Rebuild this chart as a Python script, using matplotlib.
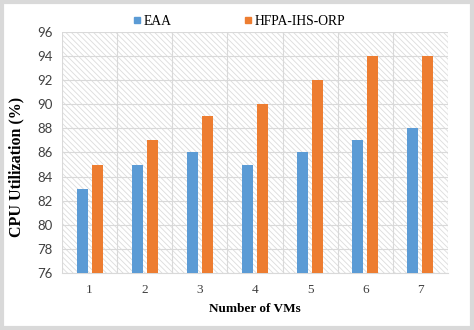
import numpy as np
import matplotlib.pyplot as plt
from matplotlib.patches import Rectangle
from matplotlib.lines import Line2D

plt.rcParams['font.family'] = 'Liberation Serif'
plt.rcParams['hatch.linewidth'] = 0.6
plt.rcParams['hatch.color'] = '#dcdcdc'

# data
vms = [1, 2, 3, 4, 5, 6, 7]
eaa = [83, 85, 86, 85, 86, 87, 88]
hfpa = [85, 87, 89, 90, 92, 94, 94]
series_names = ['EAA', 'HFPA-IHS-ORP']

blue = '#5B9BD5'
orange = '#ED7D31'

fig = plt.figure(figsize=(4.74, 3.3), dpi=100)
fig.patch.set_facecolor('white')
fig.patches.append(Rectangle((0.004, 0.006), 0.992, 0.988, transform=fig.transFigure,
                             fill=False, edgecolor='#d9d9d9', linewidth=3))
ax = fig.add_axes([0.131, 0.173, 0.814, 0.730])

# hatched plot area background
ax.add_patch(Rectangle((0, 0), 1, 1, transform=ax.transAxes, facecolor='white',
                       hatch='\\\\\\\\\\\\', edgecolor='#dcdcdc', linewidth=0, zorder=0))

x = np.array(vms)
w = 0.2
ax.bar(x - 0.135, np.array(eaa) - 76, w, bottom=76, color=blue, zorder=3)
ax.bar(x + 0.135, np.array(hfpa) - 76, w, bottom=76, color=orange, zorder=3)

ax.set_xlim(0.5, 7.5)
ax.set_ylim(76, 96)
ax.set_yticks(range(76, 97, 2))
ax.set_xticks(vms)
ax.set_xticks(np.arange(0.5, 7.6, 1), minor=True)
ax.grid(True, axis='y', color='#d9d9d9', linewidth=0.8, zorder=1)
ax.grid(True, axis='x', which='minor', color='#d9d9d9', linewidth=0.8, zorder=1)
ax.tick_params(axis='both', which='both', length=0, colors='#404040')
ax.tick_params(axis='x', pad=8, labelsize=9.5)
ax.tick_params(axis='y', pad=7, labelsize=9.5)
for lbl in ax.get_yticklabels():
    lbl.set_family('Lato')
for s in ax.spines.values():
    s.set_visible(False)
ax.spines['bottom'].set_visible(True)
ax.spines['bottom'].set_color('#d9d9d9')

ax.set_xlabel('Number of VMs', fontsize=9.5, fontweight='bold', labelpad=5)
ax.set_ylabel('CPU Utilization (%)', fontsize=11.5, fontweight='bold')
ax.yaxis.set_label_coords(-0.097, 0.44)

handles = [Line2D([], [], marker='s', linestyle='none', color=blue, markersize=5),
           Line2D([], [], marker='s', linestyle='none', color=orange, markersize=5)]
fig.legend(handles, series_names, loc='center', bbox_to_anchor=(0.503, 0.936), ncol=2,
           frameon=False, prop={'size': 9.8},
           handletextpad=0.1, columnspacing=5.2, handlelength=0.8)

fig.savefig('out.png', dpi=100)
